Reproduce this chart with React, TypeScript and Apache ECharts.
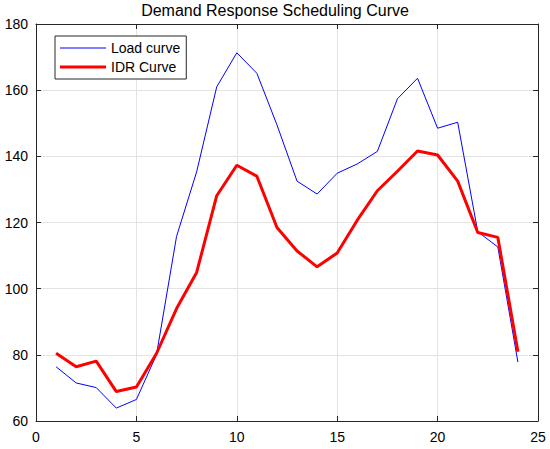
import React, { useEffect, useRef } from "react";
import * as echarts from "echarts";

const hours = [1, 2, 3, 4, 5, 6, 7, 8, 9, 10, 11, 12, 13, 14, 15, 16, 17, 18, 19, 20, 21, 22, 23, 24];
const loadCurve = [76.4, 71.5, 70.1, 63.9, 66.5, 80, 115.8, 135.3, 161, 171.3, 165.1, 149.5, 132.5, 128.6, 134.9, 137.7, 141.5, 157.4, 163.6, 148.5, 150.3, 117.2, 112.6, 77.8];
const idrCurve = [80.5, 76.4, 78.1, 68.9, 70.3, 80.4, 94, 104.9, 128.1, 137.3, 134, 118.5, 111.4, 106.6, 110.8, 120.7, 129.6, 135.5, 141.6, 140.4, 132.5, 117, 115.5, 80.9];

const FONT = "Liberation Sans, Arial, sans-serif";
const AX = "#262626";

export default function App() {
  const ref = useRef<HTMLDivElement>(null);
  useEffect(() => {
    document.body.style.margin = "0";
    const chart = echarts.init(ref.current!, null, { renderer: "svg" });
    const axisCommon = {
      axisLine: { show: true, onZero: false, lineStyle: { color: AX, width: 1 } },
      axisTick: { show: true, inside: true, length: 5, lineStyle: { color: AX } },
    };
    chart.setOption({
      animation: false,
      backgroundColor: "#ffffff",
      textStyle: { fontFamily: FONT },
      title: {
        text: "Demand Response Scheduling Curve",
        left: "center",
        top: 2,
        padding: 0,
        textStyle: { fontSize: 16, fontWeight: "normal", color: "#000", fontFamily: FONT },
      },
      legend: {
        orient: "vertical",
        left: 55,
        top: 36,
        borderColor: AX,
        borderWidth: 1,
        borderRadius: 0,
        backgroundColor: "#fff",
        padding: [5, 6, 5, 5],
        itemWidth: 46,
        itemHeight: 14,
        itemGap: 5,
        textStyle: { fontSize: 14, color: "#000", fontFamily: FONT },
        data: [
          {
            name: "Load curve",
            icon: "path://M0,0 L46,0 L46,1.2 L0,1.2 Z",
            itemStyle: { color: "#0000ff", borderWidth: 0 },
          },
          {
            name: "IDR Curve",
            icon: "path://M0,0 L46,0 L46,3 L0,3 Z",
            itemStyle: { color: "#ff0000", borderWidth: 0 },
          },
        ],
      },
      grid: { left: 36, right: 12, top: 24, bottom: 28, containLabel: false },
      xAxis: [
        {
          type: "value",
          min: 0,
          max: 25,
          interval: 5,
          position: "bottom",
          ...axisCommon,
          axisLabel: { color: "#000", fontSize: 14, margin: 9, fontFamily: FONT },
          splitLine: { show: true, lineStyle: { color: "#e3e3e3", width: 1 } },
        },
        {
          type: "value",
          min: 0,
          max: 25,
          interval: 5,
          position: "top",
          ...axisCommon,
          axisLabel: { show: false },
          splitLine: { show: false },
        },
      ],
      yAxis: [
        {
          type: "value",
          min: 60,
          max: 180,
          interval: 20,
          position: "left",
          ...axisCommon,
          axisLabel: { color: "#000", fontSize: 14, margin: 8, fontFamily: FONT },
          splitLine: { show: true, lineStyle: { color: "#e3e3e3", width: 1 } },
        },
        {
          type: "value",
          min: 60,
          max: 180,
          interval: 20,
          position: "right",
          ...axisCommon,
          axisLabel: { show: false },
          splitLine: { show: false },
        },
      ],
      series: [
        {
          name: "Load curve",
          type: "line",
          data: hours.map((h, i) => [h, loadCurve[i]]),
          symbol: "none",
          itemStyle: { color: "#0000ff" },
          lineStyle: { color: "#0000ff", width: 1 },
          z: 2,
        },
        {
          name: "IDR Curve",
          type: "line",
          data: hours.map((h, i) => [h, idrCurve[i]]),
          symbol: "none",
          itemStyle: { color: "#ff0000" },
          lineStyle: { color: "#ff0000", width: 3 },
          z: 3,
        },
      ],
    });
    return () => chart.dispose();
  }, []);
  return <div ref={ref} style={{ width: 550, height: 449 }} />;
}
